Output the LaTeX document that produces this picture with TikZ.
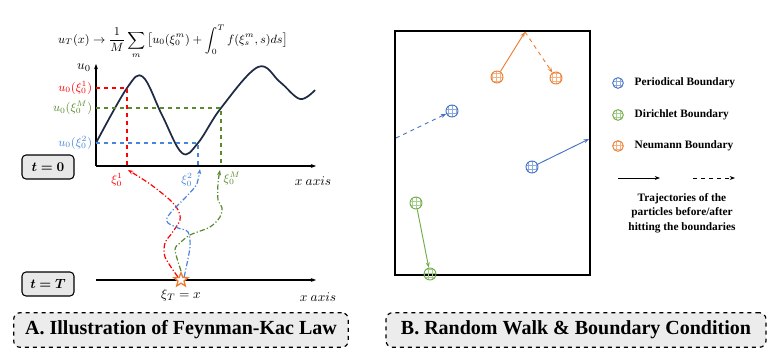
\documentclass[tikz,border=0pt]{standalone}
\usepackage{amsmath,amssymb,bm}
\usepackage{fontspec}
\setmainfont{Liberation Serif}
\usetikzlibrary{positioning, arrows.meta, shapes.geometric, patterns}

\definecolor{kred}{HTML}{FF0000}
\definecolor{kblue}{HTML}{4A86D8}
\definecolor{kgreen}{HTML}{5A8A2A}
\definecolor{korange}{HTML}{ED7D31}
\definecolor{pblue}{HTML}{4472C4}
\definecolor{pgreen}{HTML}{70AD47}
\definecolor{navy}{HTML}{1F2A44}

\begin{document}
\begin{tikzpicture}[
    x=0.75pt, y=-0.75pt,
    tbox/.style={rectangle, draw, rounded corners=3pt, fill=gray!18, line width=0.8pt, minimum width=39pt, minimum height=18pt},
    titlebox/.style={rectangle, draw, dashed, rounded corners=5pt, fill=gray!15, line width=0.9pt, minimum height=26pt, font=\bfseries\fontsize{15}{17}\selectfont},
    axis/.style={-{Stealth[length=4pt]}, line width=1.1pt},
    guide/.style={dashed, line width=0.8pt},
    walk/.style={dash pattern=on 4pt off 1.6pt on 0.9pt off 1.6pt, line width=0.9pt, -{Stealth[length=4pt]}},
    lbl/.style={inner sep=0.5pt, font=\small},
    particle/.style={circle, draw=#1, line width=0.7pt, pattern=grid, pattern color=#1!60, minimum size=9pt, inner sep=0pt},
    traj/.style={-{Stealth[length=4pt]}, line width=0.7pt},
    legend/.style={anchor=west, font=\bfseries\fontsize{8.5}{10}\selectfont}
]
\useasboundingbox (0,0) rectangle (775,361);

% ---- A: Feynman-Kac ----
\node (formula) at (173,42) {\small $u_T(x)\to\dfrac{1}{M}\displaystyle\sum_m\big[u_0(\xi_0^m)+\int_0^T f(\xi_s^m,s)ds\big]$};

\coordinate (o) at (96,166);
\coordinate (ytop) at (96,64);
\coordinate (xend) at (316,166);
\draw[axis] (o) -- (ytop);
\draw[axis] (o) -- (xend);
\node (ulabel) at (84,68) {$u_0$};
\node (xlabel) at (313,181) {$x\ axis$};

\draw[navy, line width=1.3pt] plot[smooth, tension=0.6] coordinates {(96,143) (127,88) (143,77) (162,115) (182,153) (198,143) (221,108) (258,67) (280,82) (300,99) (315,90)};

% guides
\draw[guide, kred] (96,88) -- (127,88) -- (127,166);
\draw[guide, kgreen] (96,108) -- (221,108) -- (221,166);
\draw[guide, kblue] (96,143) -- (198,143) -- (198,166);
\node[lbl, anchor=east, kred] (u1) at (93,88) {$u_0(\xi_0^1)$};
\node[lbl, anchor=east, kgreen] (uM) at (93,108) {$u_0(\xi_0^M)$};
\node[lbl, anchor=east, kblue] (u2) at (93,143) {$u_0(\xi_0^2)$};
\node[lbl, kred] (x1) at (117,180) {$\xi_0^1$};
\node[lbl, kblue] (x2) at (187,180) {$\xi_0^2$};
\node[lbl, kgreen] (xM) at (232,178) {$\xi_0^M$};

\node[tbox] (t0) at (48,167) {$\bm{t=0}$};
\node[tbox] (tT) at (48,284) {$\bm{t=T}$};

\coordinate (o2) at (96,280);
\coordinate (xend2) at (316,280);
\draw[axis] (o2) -- (xend2);
\node (xlabel2) at (318,297) {$x\ axis$};

\node[star, star points=5, star point ratio=2.3, draw=korange, fill=white, line width=1pt, minimum size=11pt, inner sep=0pt] (star) at (181,280) {};
\node (xiT) at (181,295) {$\xi_T=x$};

\coordinate (e1) at (128,170);
\coordinate (e2) at (200,169);
\coordinate (eM) at (220,170);
\draw[walk, kred] plot[smooth] coordinates {(star.north west) (165,257) (165,243) (172,233) (180,220) (178,210) (170,200) (150,184) (e1)};
\draw[walk, kblue] plot[smooth] coordinates {(star.north east) (190,247) (188,232) (178,228) (168,223) (167,218) (173,210) (183,200) (195,187) (198,180) (e2)};
\draw[walk, kgreen] plot[smooth] coordinates {(star.north) (175,250) (180,243) (190,235) (210,227) (220,217) (222,208) (218,200) (218,183) (eM)};

\node[titlebox, minimum width=251pt] (titleA) at (181,330) {A. Illustration of Feynman-Kac Law};

% ---- B: random walk ----
\draw[line width=1.5pt] (395,31) rectangle (590,275);

\node[particle=korange] (n1) at (497,77) {};
\node[particle=korange] (n2) at (556,78) {};
\node[particle=pblue] (p1) at (452,111) {};
\node[particle=pblue] (p2) at (532,167) {};
\node[particle=pgreen] (d1) at (416,203) {};
\node[particle=pgreen] (d2) at (430,274) {};
\coordinate (nhit) at (525,32);
\coordinate (pin) at (396,138);
\coordinate (pout) at (589,139);

\draw[traj, korange] (n1) -- (nhit);
\draw[traj, korange, dashed] (nhit) -- (n2);
\draw[traj, pblue, dashed] (pin) -- (p1);
\draw[traj, pblue] (p2) -- (pout);
\draw[traj, pgreen] (d1) -- (d2);

% legend
\node[particle=pblue, minimum size=8pt] (lp) at (618,83) {};
\node[particle=pgreen, minimum size=8pt] (ld) at (618,115) {};
\node[particle=korange, minimum size=8pt] (ln) at (618,146) {};
\node[legend] at (630,83) {Periodical Boundary};
\node[legend] at (630,115) {Dirichlet Boundary};
\node[legend] at (630,146) {Neumann Boundary};
\coordinate (la1) at (618,178);
\coordinate (la2) at (660,178);
\coordinate (lb1) at (693,178);
\coordinate (lb2) at (735,178);
\draw[traj] (la1) -- (la2);
\draw[traj, dashed] (lb1) -- (lb2);
\node[align=center, font=\bfseries\fontsize{8.5}{11}\selectfont] (trajtext) at (682,213) {Trajectories of the\\particles before/after\\hitting the boundaries};

\node[titlebox, minimum width=285pt] (titleB) at (576,330) {B. Random Walk \& Boundary Condition};
\end{tikzpicture}
\end{document}
